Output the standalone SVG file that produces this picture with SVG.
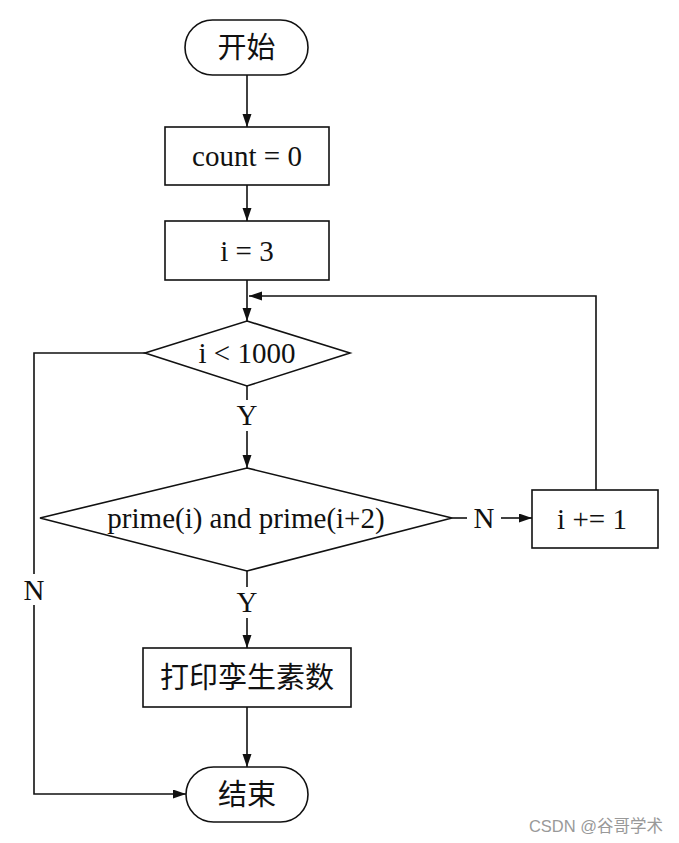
<svg xmlns="http://www.w3.org/2000/svg" width="679" height="843" viewBox="0 0 679 843">
<style>
.shape{fill:#fff;stroke:#111;stroke-width:1.6}
.ln{fill:none;stroke:#111;stroke-width:1.6}
.t{font-family:"Liberation Serif","Times New Roman",serif;font-size:29px;fill:#111;text-anchor:middle;dominant-baseline:central}
.c{font-family:"Liberation Serif","Noto Sans CJK SC",serif;font-size:29px;fill:#111;text-anchor:middle;dominant-baseline:central}
.w{font-family:"Liberation Sans","Noto Sans CJK SC",sans-serif;font-size:16.5px;fill:#999;text-anchor:end}
</style>
<defs>
<marker id="arr" markerUnits="userSpaceOnUse" markerWidth="14" markerHeight="10" refX="13" refY="4.5" orient="auto">
<path d="M0,0 L13,4.5 L0,9 z" fill="#111"/>
</marker>
</defs>
<rect width="679" height="843" fill="#fff"/>
<g id="connectors">
<path class="ln" d="M247,75 V127" marker-end="url(#arr)"/>
<path class="ln" d="M247,185 V221" marker-end="url(#arr)"/>
<path class="ln" d="M247,280 V321" marker-end="url(#arr)"/>
<path class="ln" d="M596,490 V296 H249" marker-end="url(#arr)"/>
<path class="ln" d="M145,353 H34 V574"/>
<text class="t" x="34" y="590">N</text>
<path class="ln" d="M34,605 V794 H186" marker-end="url(#arr)"/>
<path class="ln" d="M247,386 V400"/>
<text class="t" x="247" y="415">Y</text>
<path class="ln" d="M247,431 V468" marker-end="url(#arr)"/>
<path class="ln" d="M452,518 H467"/>
<text class="t" x="484" y="518">N</text>
<path class="ln" d="M501,518 H532" marker-end="url(#arr)"/>
<path class="ln" d="M247,571 V587"/>
<text class="t" x="247" y="602">Y</text>
<path class="ln" d="M247,618 V648" marker-end="url(#arr)"/>
<path class="ln" d="M247,707 V767" marker-end="url(#arr)"/>
</g>
<g id="start">
<rect class="shape" x="185" y="20" width="123" height="55" rx="27.5"/>
<text class="c" x="246.5" y="47.5">开始</text>
</g>
<g id="count">
<rect class="shape" x="165" y="127" width="164" height="58"/>
<text class="t" x="247" y="156">count = 0</text>
</g>
<g id="init">
<rect class="shape" x="165" y="221" width="164" height="59"/>
<text class="t" x="247" y="250.5">i = 3</text>
</g>
<g id="cond1">
<polygon class="shape" points="247,321 350,353 247,386 145,353"/>
<text class="t" x="247" y="353">i &lt; 1000</text>
</g>
<g id="cond2">
<polygon class="shape" points="247,468 452,518 247,571 40,518"/>
<text class="t" x="246" y="518">prime(i) and prime(i+2)</text>
</g>
<g id="inc">
<rect class="shape" x="532" y="490" width="126" height="58"/>
<text class="t" x="592" y="519">i += 1</text>
</g>
<g id="print">
<rect class="shape" x="143" y="648" width="208" height="59"/>
<text class="c" x="247" y="677.5">打印孪生素数</text>
</g>
<g id="end">
<rect class="shape" x="186" y="767" width="122" height="55" rx="27.5"/>
<text class="c" x="247" y="794.5">结束</text>
</g>
<text class="w" x="663" y="832">CSDN @谷哥学术</text>
</svg>
